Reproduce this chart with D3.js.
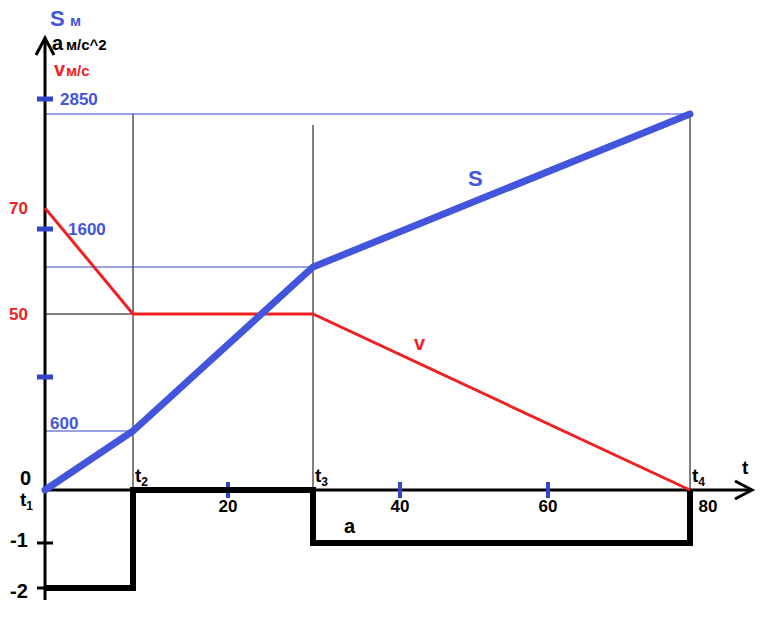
<!DOCTYPE html>
<meta charset="utf-8">
<style>
  body { margin: 0; background: #fff; }
  text { font-family: "Liberation Sans", Arial, sans-serif; font-weight: bold; }
</style>
<body>
<div id="chart"></div>
<script src="https://d3js.org/d3.v7.min.js"></script>
<script>

// time marks (hand-drawn axis, uneven spacing)
var tKnots = [0, 10, 20, 30, 40, 60, 80];
var tTicks = [20, 40, 60, 80];
var tMarks = [{t: 0, name: "1"}, {t: 10, name: "2"}, {t: 30, name: "3"}, {t: 80, name: "4"}];

// velocity v, m/s
var vTime = [0, 10, 30, 80];
var vVals = [70, 50, 50, 0];

// distance S, m
var sTime = [0, 10, 30, 80];
var sVals = [0, 600, 1600, 2850];

// acceleration a, m/s^2
var aTime = [0, 10, 10, 30, 30, 80, 80];
var aVals = [-2, -2, 0, 0, -1, -1, 0];

var svg = d3.select("#chart").append("svg")
    .attr("width", 770).attr("height", 632);

var x = d3.scaleLinear().domain(tKnots).range([45, 133, 228, 313, 400, 548, 690]);
var yV = d3.scaleLinear().domain([0, 50, 70]).range([490, 314, 208]);
var yS = d3.scaleLinear().domain([0, 600, 1600, 2850]).range([490, 431, 267, 114]);
var yA = d3.scaleLinear().domain([-2, -1, 0]).range([588, 543, 490]);

// thin guide lines
svg.selectAll(".vg").data(tMarks.slice(1)).enter().append("line")
  .attr("x1", d => x(d.t)).attr("x2", d => x(d.t))
  .attr("y1", d => d.t == 30 ? 125 : 114).attr("y2", 490)
  .attr("stroke", "#000").attr("stroke-width", 1);
svg.selectAll(".sg").data(sVals.slice(1)).enter().append("line")
  .attr("x1", 45).attr("x2", (d, i) => x(sTime[i + 1]))
  .attr("y1", d => yS(d)).attr("y2", d => yS(d))
  .attr("stroke", "#3344cc").attr("stroke-width", 1);
svg.append("line").attr("x1", 45).attr("x2", x(30))
  .attr("y1", yV(50)).attr("y2", yV(50)).attr("stroke", "#000");

// axes
svg.append("line").attr("x1", 45).attr("x2", 45).attr("y1", 600).attr("y2", 40)
  .attr("stroke", "#000").attr("stroke-width", 3);
svg.append("path").attr("d", "M36,55 L45,38 L54,55").attr("fill", "none")
  .attr("stroke", "#000").attr("stroke-width", 3);
svg.append("line").attr("x1", 45).attr("x2", 750).attr("y1", 490).attr("y2", 490)
  .attr("stroke", "#000").attr("stroke-width", 3);
svg.append("path").attr("d", "M735,481 L752,490 L735,499").attr("fill", "none")
  .attr("stroke", "#000").attr("stroke-width", 3);

// x ticks
svg.selectAll(".xt").data(tTicks.slice(0, 3)).enter().append("line")
  .attr("x1", d => x(d)).attr("x2", d => x(d)).attr("y1", 482).attr("y2", 498)
  .attr("stroke", "#3344cc").attr("stroke-width", 4);
svg.selectAll(".xl").data(tTicks).enter().append("text")
  .attr("x", d => x(d) + (d == 80 ? 18 : 0)).attr("y", 512).attr("text-anchor", "middle")
  .attr("font-size", 17).text(d => d);

// y ticks (blue marks on axis)
svg.selectAll(".yt").data([99, 229, 377]).enter().append("line")
  .attr("x1", 37).attr("x2", 53).attr("y1", d => d).attr("y2", d => d)
  .attr("stroke", "#3344cc").attr("stroke-width", 5);
svg.selectAll(".at").data([-1, -2]).enter().append("line")
  .attr("x1", 37).attr("x2", 53).attr("y1", d => yA(d)).attr("y2", d => yA(d))
  .attr("stroke", "#000").attr("stroke-width", 3);

// curves
var lineOf = (xs, ys, sc) => d3.line().x((d, i) => x(xs[i])).y(d => sc(d))(ys);
svg.append("path").attr("d", lineOf(aTime, aVals, yA)).attr("fill", "none")
  .attr("stroke", "#000").attr("stroke-width", 6);
svg.append("path").attr("d", lineOf(vTime, vVals, yV)).attr("fill", "none")
  .attr("stroke", "#ee2222").attr("stroke-width", 3);
svg.append("path").attr("d", lineOf(sTime, sVals, yS)).attr("fill", "none")
  .attr("stroke", "#4455dd").attr("stroke-width", 7).attr("stroke-linecap", "round");

// labels
function lab(t, px, py, col, fs, anchor) {
  return svg.append("text").attr("x", px).attr("y", py).attr("fill", col)
    .attr("font-size", fs).attr("text-anchor", anchor || "start").text(t);
}
lab("S", 50, 26, "#4455dd", 22);
lab("м", 70, 26, "#4455dd", 15);
lab("a", 52, 50, "#000", 20);
lab("м/с^2", 66, 50, "#000", 15);
lab("v", 54, 76, "#ee2222", 20);
lab("м/с", 66, 76, "#ee2222", 15);

vVals.filter((d, i) => i < 2).forEach(d => lab(d, 28, yV(d) + 6, "#ee2222", 17, "end"));
lab("2850", 60, 105, "#4455dd", 17);
lab("1600", 68, 235, "#4455dd", 17);
lab("600", 50, 429, "#4455dd", 17);
lab("0", 20, 485, "#000", 20);
lab("-1", 10, 547, "#000", 20);
lab("-2", 10, 598, "#000", 20);

tMarks.forEach(d => {
  var px = d.t == 0 ? 20 : x(d.t) + 2, py = d.t == 0 ? 506 : 482;
  var tx = lab("t", px, py, "#000", 19);
  tx.append("tspan").attr("font-size", 12).attr("dy", 4).text(d.name);
});
lab("t", 742, 474, "#000", 19);
lab("S", 468, 186, "#4455dd", 22);
lab("v", 414, 350, "#ee2222", 20);
lab("a", 344, 533, "#000", 20);

</script>
</body>
